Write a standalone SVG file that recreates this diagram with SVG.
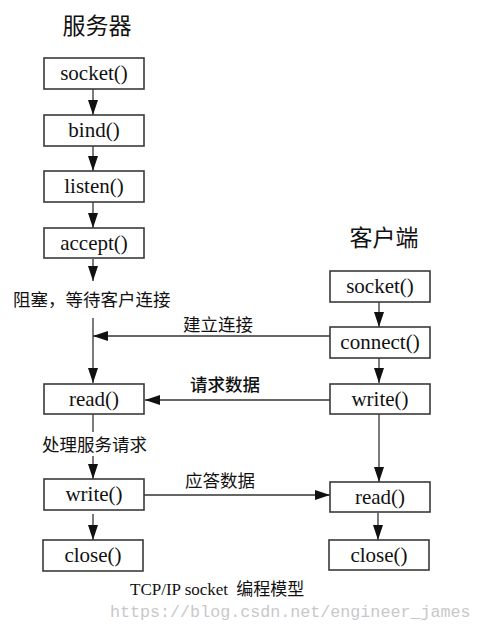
<svg xmlns="http://www.w3.org/2000/svg" width="481" height="626" viewBox="0 0 481 626">
<style>
.box{fill:#fff;stroke:#3a3a3a;stroke-width:1.6}
.lbl{font-family:"Liberation Serif","DejaVu Serif",serif;font-size:21px;fill:#111;text-anchor:middle}
.cjk{font-family:"Noto Sans CJK SC","Noto Sans",sans-serif;fill:#111}
.ln{stroke:#333;stroke-width:1.3;fill:none}
</style>
<defs>
<marker id="ah" markerUnits="userSpaceOnUse" markerWidth="15" markerHeight="10" refX="15" refY="5" orient="auto">
<path d="M0,0 L15,5 L0,10 z" fill="#111"/>
</marker>
</defs>
<rect width="481" height="626" fill="#fff"/>
<text class="cjk" x="97" y="34" font-size="23" text-anchor="middle">服务器</text>
<text class="cjk" x="384" y="246" font-size="23" text-anchor="middle">客户端</text>

<g id="connectors">
<line class="ln" x1="93" y1="89" x2="93" y2="115" marker-end="url(#ah)"/>
<line class="ln" x1="93" y1="146" x2="93" y2="171" marker-end="url(#ah)"/>
<line class="ln" x1="93" y1="202" x2="93" y2="228" marker-end="url(#ah)"/>
<line class="ln" x1="93" y1="259" x2="93" y2="281" marker-end="url(#ah)"/>
<line class="ln" x1="93" y1="318" x2="93" y2="383" marker-end="url(#ah)"/>
<line class="ln" x1="330" y1="336" x2="93" y2="336" marker-end="url(#ah)"/>
<line class="ln" x1="379" y1="302" x2="379" y2="327" marker-end="url(#ah)"/>
<line class="ln" x1="379" y1="358" x2="379" y2="383" marker-end="url(#ah)"/>
<line class="ln" x1="330" y1="400" x2="145" y2="400" marker-end="url(#ah)"/>
<line class="ln" x1="93" y1="414" x2="93" y2="432"/>
<line class="ln" x1="93" y1="456" x2="93" y2="479" marker-end="url(#ah)"/>
<line class="ln" x1="379" y1="414" x2="379" y2="482" marker-end="url(#ah)"/>
<line class="ln" x1="144" y1="495" x2="330" y2="495" marker-end="url(#ah)"/>
<line class="ln" x1="93" y1="514" x2="93" y2="540" marker-end="url(#ah)"/>
<line class="ln" x1="378" y1="513" x2="378" y2="540" marker-end="url(#ah)"/>
<text class="cjk" x="13" y="306" font-size="17.5">阻塞，等待客户连接</text>
<text class="cjk" x="183" y="331" font-size="17.5">建立连接</text>
<text class="cjk" x="190" y="391" font-size="17.5" font-weight="500">请求数据</text>
<text class="cjk" x="42" y="451" font-size="17.5">处理服务请求</text>
<text class="cjk" x="185" y="487" font-size="17.5">应答数据</text>
</g>

<g id="s_socket"><rect class="box" x="44" y="58" width="100" height="31"/><text class="lbl" x="94" y="80">socket()</text></g>
<g id="s_bind"><rect class="box" x="44" y="115" width="100" height="31"/><text class="lbl" x="94" y="137">bind()</text></g>
<g id="s_listen"><rect class="box" x="44" y="171" width="100" height="31"/><text class="lbl" x="94" y="193">listen()</text></g>
<g id="s_accept"><rect class="box" x="44" y="228" width="100" height="30"/><text class="lbl" x="94" y="250">accept()</text></g>
<g id="s_read"><rect class="box" x="44" y="384" width="100" height="30"/><text class="lbl" x="94" y="406">read()</text></g>
<g id="s_write"><rect class="box" x="44" y="479" width="100" height="31"/><text class="lbl" x="94" y="501">write()</text></g>
<g id="s_close"><rect class="box" x="43" y="540" width="100" height="31"/><text class="lbl" x="93" y="562">close()</text></g>

<g id="c_socket"><rect class="box" x="330" y="271" width="100" height="31"/><text class="lbl" x="380" y="293">socket()</text></g>
<g id="c_connect"><rect class="box" x="330" y="327" width="100" height="31"/><text class="lbl" x="380" y="349">connect()</text></g>
<g id="c_write"><rect class="box" x="330" y="384" width="100" height="30"/><text class="lbl" x="380" y="406">write()</text></g>
<g id="c_read"><rect class="box" x="330" y="482" width="100" height="30"/><text class="lbl" x="380" y="504">read()</text></g>
<g id="c_close"><rect class="box" x="329" y="540" width="100" height="30"/><text class="lbl" x="379" y="562">close()</text></g>

<text x="130" y="595" font-size="17"><tspan font-family="Liberation Serif,serif" fill="#111">TCP/IP socket </tspan><tspan font-family="Noto Sans CJK SC,sans-serif" fill="#111" dx="4">编程模型</tspan></text>
<text x="110" y="617" font-family="Liberation Mono,monospace" font-size="16.7" fill="#c8c8c8">https://blog.csdn.net/engineer_james</text>
</svg>
